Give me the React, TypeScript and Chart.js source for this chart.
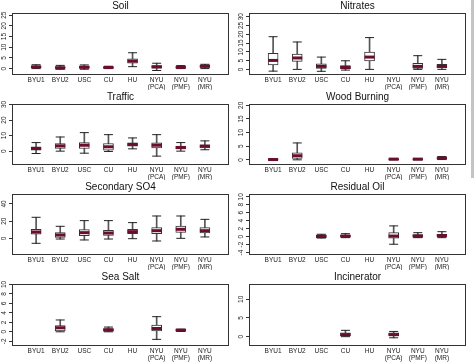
import React, { useEffect, useRef } from 'react';
import { Chart, registerables } from 'chart.js';
Chart.register(...registerables);

const FONT = "'Liberation Sans', Arial, Helvetica, sans-serif";

const categories: string[][] = [
  ['BYU1'], ['BYU2'], ['USC'], ['CU'], ['HU'],
  ['NYU', '(PCA)'], ['NYU', '(PMF)'], ['NYU', '(MR)'],
];

// each entry: [lower whisker, Q1, median, Q3, upper whisker] or null (no data)
type Stat = number[] | null;

const soil: Stat[] = [
  [0, 0.4, 0.8, 1.2, 1.8],
  [-0.3, 0, 0.3, 0.9, 1.5],
  [-0.3, 0, 0.6, 1.2, 1.7],
  [0, 0.2, 0.5, 0.8, 1.1],
  [0.9, 2.5, 3.5, 4.6, 7.4],
  [-0.9, 0.2, 0.8, 1.4, 2.5],
  [0, 0.3, 0.6, 0.9, 1.4],
  [0, 0.5, 1.1, 1.5, 2.0],
];
const nitrates: Stat[] = [
  [-1.0, 2.5, 5.1, 9.1, 18.6],
  [0, 4.6, 6.5, 8.7, 15.6],
  [-1.1, 0.6, 1.7, 3.2, 7.0],
  [-0.4, 0.4, 1.1, 2.1, 4.9],
  [0, 4.8, 7.0, 9.9, 18.1],
  null,
  [0, 0.6, 1.7, 3.4, 7.8],
  [0, 0.8, 1.7, 2.9, 5.7],
];
const traffic: Stat[] = [
  [-1.5, 0.6, 1.7, 2.8, 5.5],
  [0, 1.7, 3.4, 4.9, 9.1],
  [-1.3, 1.7, 3.8, 5.5, 11.9],
  [-0.2, 0.6, 2.8, 4.9, 10.6],
  [1.5, 3.2, 4.3, 5.3, 8.5],
  [-3.2, 2.1, 3.8, 5.3, 10.6],
  [0, 1.5, 2.3, 3.2, 5.5],
  [0.9, 2.1, 3.2, 4.0, 6.6],
];
const woodBurning: Stat[] = [
  [-0.2, -0.05, 0.1, 0.2, 0.35],
  [0, 0.5, 1.5, 2.6, 6.2],
  null,
  null,
  null,
  [0, 0.1, 0.25, 0.4, 0.5],
  [0, 0.1, 0.25, 0.4, 0.5],
  [0.1, 0.4, 0.6, 0.8, 1.2],
];
const secondarySO4: Stat[] = [
  [-5.8, 4.7, 7.4, 10.5, 24.5],
  [-0.8, 1.2, 3.9, 6.6, 14.0],
  [-1.9, 3.1, 6.6, 10.1, 20.6],
  [-0.8, 3.5, 6.2, 9.3, 20.6],
  [-0.4, 5.4, 7.8, 10.5, 18.3],
  [-3.1, 5.4, 8.9, 12.4, 26.0],
  [0, 7.0, 10.5, 14.4, 26.0],
  [1.6, 6.2, 8.9, 12.4, 22.1],
];
const residualOil: Stat[] = [
  null,
  null,
  [-0.35, -0.25, 0.1, 0.4, 0.6],
  [-0.25, -0.1, 0.15, 0.4, 0.75],
  null,
  [-1.9, -0.35, 0.15, 1.0, 2.7],
  [-0.25, -0.1, 0.15, 0.5, 1.0],
  [-0.25, 0, 0.25, 0.6, 1.25],
];
const seaSalt: Stat[] = [
  null,
  [0, 0.2, 0.85, 1.3, 2.5],
  null,
  [0, 0.15, 0.4, 0.7, 1.0],
  null,
  [-1.6, 0.2, 0.7, 1.4, 3.2],
  [0.07, 0.2, 0.35, 0.5, 0.55],
  null,
];
const incinerator: Stat[] = [
  null,
  null,
  null,
  [0, 0.2, 0.55, 1.0, 1.7],
  null,
  [-0.3, 0.2, 0.55, 1.0, 1.4],
  null,
  null,
];

const soilTicks = [0, 5, 10, 15, 20, 25];
const nitratesTicks = [0, 5, 10, 15, 20, 25, 30];
const trafficTicks = [0, 10, 20, 30];
const woodTicks = [0, 5, 10, 15, 20];
const so4Ticks = [0, 20, 40];
const residualTicks = [-4, -2, 0, 2, 4, 6, 8, 10];
const seaSaltTicks = [-2, 0, 2, 4, 6, 8, 10];
const incineratorTicks = [0, 5, 10];

type PanelProps = {
  title: string;
  stats: Stat[];
  yTicks: number[];
  yMin: number;
  yMax: number;
  col: number;
  row: number;
};

const framePlugin = {
  id: 'frame',
  afterDatasetsDraw(chart: any) {
    const { left, top, right, bottom } = chart.chartArea;
    const ctx = chart.ctx;
    ctx.save();
    ctx.strokeStyle = '#333';
    ctx.lineWidth = 1;
    const x0 = Math.round(left) + 0.5;
    const x1 = Math.round(right) - 0.5;
    const y0 = Math.round(top) + 0.5;
    const y1 = Math.round(bottom) - 0.5;
    ctx.strokeRect(x0, y0, x1 - x0, y1 - y0);
    ctx.restore();
  },
};

function BoxPanel({ title, stats, yTicks, yMin, yMax, col, row }: PanelProps) {
  const ref = useRef<HTMLCanvasElement>(null);
  const h = row === 3 ? 92 : 90;
  const bottom = row === 3 ? 76 : 75;

  useEffect(() => {
    if (!ref.current) return;
    const pts = stats
      .map((s, i) => (s ? { i: i + 1, s } : null))
      .filter((p): p is { i: number; s: number[] } => p !== null);
    const whisk = pts.map((p) => ({ x: p.i, y: [p.s[0], p.s[4]] }));
    const box = pts.map((p) => ({ x: p.i, y: [p.s[1], p.s[3]] }));
    const med = pts.map((p) => ({ x: p.i, y: p.s[2] }));
    const caps = pts.flatMap((p) => [
      { x: p.i, y: p.s[0] },
      { x: p.i, y: p.s[4] },
    ]);

    const chart = new Chart(ref.current, {
      type: 'bar',
      data: {
        datasets: [
          {
            type: 'line',
            data: med as any,
            showLine: false,
            pointStyle: 'line',
            pointRadius: 5,
            pointBorderWidth: 3,
            pointBorderColor: '#6b0d2e',
            borderColor: '#6b0d2e',
            order: 0,
          } as any,
          {
            type: 'line',
            data: caps as any,
            showLine: false,
            pointStyle: 'line',
            pointRadius: 4.5,
            pointBorderWidth: 1,
            pointBorderColor: '#222',
            borderColor: '#222',
            order: 1,
          } as any,
          {
            type: 'bar',
            data: box as any,
            grouped: false,
            barThickness: 10,
            backgroundColor: '#ffffff',
            borderColor: '#333',
            borderWidth: 1,
            borderSkipped: false,
            order: 2,
          } as any,
          {
            type: 'bar',
            data: whisk as any,
            grouped: false,
            barThickness: 1,
            backgroundColor: '#555',
            borderWidth: 0,
            order: 3,
          } as any,
        ],
      },
      options: {
        responsive: false,
        animation: false,
        events: [],
        layout: { padding: { left: 0, right: col === 0 ? 5 : 6, top: 0, bottom: 0 } },
        plugins: {
          legend: { display: false },
          tooltip: { enabled: false },
          title: {
            display: true,
            fullSize: false,
            text: title,
            color: '#111',
            font: { family: FONT, size: 10, weight: 'normal', lineHeight: 1.3 },
            padding: { top: row === 0 ? 0 : 1, bottom: 0 },
          },
        },
        scales: {
          x: {
            type: 'linear',
            min: 0,
            max: 9,
            offset: false,
            grid: { display: false, drawTicks: false, offset: false },
            border: { display: false },
            afterBuildTicks: (s: any) => {
              s.ticks = categories.map((_, i) => ({ value: i + 1 }));
            },
            afterFit: (s: any) => {
              s.height = h - bottom;
            },
            ticks: {
              autoSkip: false,
              maxRotation: 0,
              minRotation: 0,
              padding: 1,
              color: '#222',
              font: { family: FONT, size: 6.5, lineHeight: 1.15 },
              callback: (v: any) => categories[Number(v) - 1] ?? '',
            },
          },
          y: {
            type: 'linear',
            min: yMin,
            max: yMax,
            grid: { drawOnChartArea: false, drawTicks: true, tickLength: 3, color: '#333' },
            border: { display: false },
            afterBuildTicks: (s: any) => {
              s.ticks = yTicks.map((v) => ({ value: v }));
            },
            afterFit: (s: any) => {
              s.width = 12;
            },
            ticks: {
              autoSkip: false,
              minRotation: 90,
              maxRotation: 90,
              crossAlign: 'center',
              padding: 1,
              color: '#222',
              font: { family: FONT, size: 6.5 },
            },
          },
        },
      } as any,
      plugins: [framePlugin],
    });
    return () => chart.destroy();
  }, [title, stats, yTicks, yMin, yMax, col, row]);

  return (
    <div style={{ position: 'absolute', left: col * 237, top: row * 90, width: 237, height: h }}>
      <canvas ref={ref} width={237} height={h} style={{ display: 'block' }} />
    </div>
  );
}

export default function App() {
  return (
    <div style={{ position: 'absolute', left: 0, top: 0, width: 474, height: 362, background: '#fff' }}>
      <BoxPanel title="Soil" stats={soil} yTicks={soilTicks} yMin={-3} yMax={26} col={0} row={0} />
      <BoxPanel title="Nitrates" stats={nitrates} yTicks={nitratesTicks} yMin={-3.2} yMax={32.1} col={1} row={0} />
      <BoxPanel title="Traffic" stats={traffic} yTicks={trafficTicks} yMin={-8.9} yMax={30.3} col={0} row={1} />
      <BoxPanel title="Wood Burning" stats={woodBurning} yTicks={woodTicks} yMin={-1.9} yMax={20.5} col={1} row={1} />
      <BoxPanel title="Secondary SO4" stats={secondarySO4} yTicks={so4Ticks} yMin={-19.4} yMax={51.6} col={0} row={2} />
      <BoxPanel title="Residual Oil" stats={residualOil} yTicks={residualTicks} yMin={-4.6} yMax={10.7} col={1} row={2} />
      <BoxPanel title="Sea Salt" stats={seaSalt} yTicks={seaSaltTicks} yMin={-3} yMax={10.1} col={0} row={3} />
      <BoxPanel title="Incinerator" stats={incinerator} yTicks={incineratorTicks} yMin={-2.5} yMax={14.1} col={1} row={3} />
      <div style={{ position: 'absolute', left: 471, top: 0, width: 3, height: 178, background: '#c4c4c4' }} />
    </div>
  );
}
